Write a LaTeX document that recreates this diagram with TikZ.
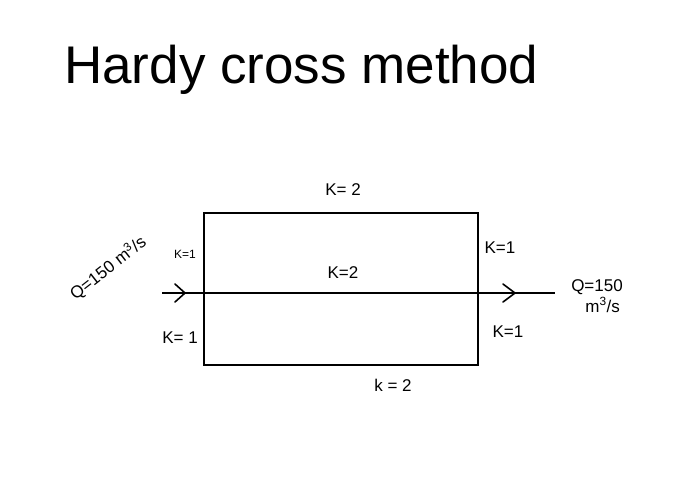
\documentclass[tikz,border=0pt]{standalone}
\usepackage{fontspec}
\setmainfont{Liberation Sans}
\begin{document}
\begin{tikzpicture}[x=1pt,y=-1pt,
  hand/.style={font=\fontsize{17}{17}\selectfont},
  ln/.style={line width=1.6pt},
  chev/.style={line width=1.6pt,line cap=round,line join=round}]
\useasboundingbox (0,0) rectangle (700,488);
\node[anchor=base west,font=\fontsize{53}{53}\selectfont,inner sep=0] (title) at (64,83) {Hardy cross method};
\node[ln,draw,minimum width=274pt,minimum height=152pt,inner sep=0] (box) at (341,289) {};
\coordinate (L) at (162,293);
\coordinate (R) at (555,293);
\draw[ln] (L) -- (R);
\draw[chev] (175,284) -- (185,293) -- (175,302);
\draw[chev] (503,284) -- (515,293) -- (503,302);
\node[hand] (ktop) at (343,190) {K= 2};
\node[hand] (kmid) at (343,273) {K=2};
\node[hand] (kbot) at (393,385) {k = 2};
\node[hand,font=\fontsize{12}{12}\selectfont] (klt) at (185,254) {K=1};
\node[hand] (klb) at (180,338) {K= 1};
\node[hand] (krt) at (500,248) {K=1};
\node[hand] (krb) at (508,332) {K=1};
\node[hand,rotate=38,inner sep=1pt] (qin) at (108,268) {Q=150 m\textsuperscript{3}/s};
\node[hand,align=left,inner sep=1pt] (qout) at (597,296) {Q=150\\[2pt]\ \ \ m\textsuperscript{3}/s};
\end{tikzpicture}
\end{document}
